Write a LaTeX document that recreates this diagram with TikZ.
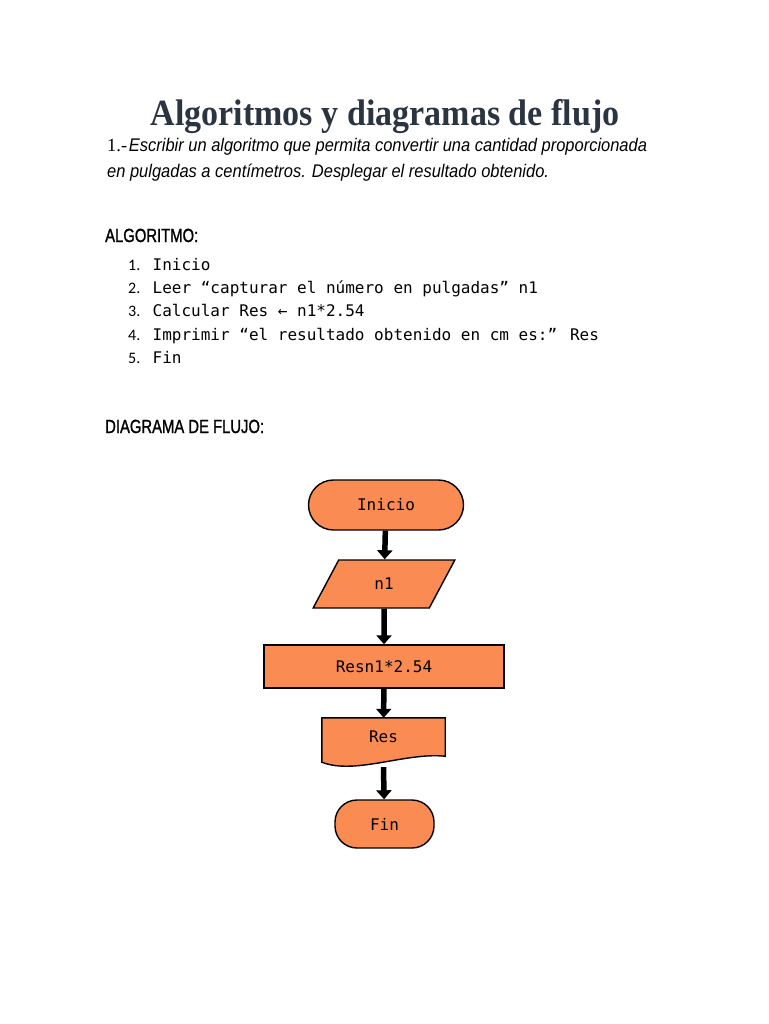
\documentclass[tikz,border=0pt]{standalone}
\usepackage{fontspec}
\setmainfont{Liberation Serif}
\newfontfamily\titlefont[FakeStretch=0.92]{Liberation Serif}
\newfontfamily\enunfont[FakeStretch=0.9]{Liberation Sans}
\newfontfamily\headfont[FakeStretch=0.78,FakeBold=1.2]{Liberation Sans}
\newfontfamily\numfont{Carlito}
\newfontfamily\codefont{DejaVu Sans Mono}
\usetikzlibrary{arrows.meta,shapes.geometric,calc}

\definecolor{titlecolor}{HTML}{2B3441}
\definecolor{boxorange}{HTML}{F98B53}

\pgfdeclarelayer{bg}
\pgfsetlayers{bg,main}

\begin{document}
\begin{tikzpicture}[x=1pt,y=-1pt,
    every node/.style={inner sep=0pt},
    flowbox/.style={draw, line width=1.4pt, fill=boxorange, font=\codefont\fontsize{16}{18}\selectfont},
    flowarrow/.style={line width=5.5pt, -{Triangle[width=15pt,length=9pt]}},
    listnum/.style={anchor=base west, font=\numfont\fontsize{16}{19}\selectfont},
    listitem/.style={anchor=base west, font=\codefont\fontsize{16}{19}\selectfont},
    heading/.style={anchor=base west, font=\headfont\fontsize{19}{22}\selectfont}]
        \useasboundingbox (0,0) rectangle (768,1024);

        % encabezado
        \node[anchor=base, text=titlecolor, font=\titlefont\bfseries\fontsize{37}{40}\selectfont] (titulo) at (385,126) {Algoritmos y diagramas de flujo};
        \node[anchor=base west] (enun1) at (107,152) {{\fontsize{18.5}{20}\selectfont 1.-}\,{\enunfont\itshape\fontsize{18.3}{21}\selectfont Escribir un algoritmo que permita convertir una cantidad proporcionada}};
        \node[anchor=base west, font=\enunfont\itshape\fontsize{18.3}{21}\selectfont] (enun2) at (107,178) {en pulgadas a centímetros. Desplegar el resultado obtenido.};

        % algoritmo
        \node[heading] (algo) at (105,242) {ALGORITMO:};
        \node[listnum] (num1) at (128,270) {1.};
        \node[listnum] (num2) at (128,293.3) {2.};
        \node[listnum] (num3) at (128,316.6) {3.};
        \node[listnum] (num4) at (128,340) {4.};
        \node[listnum] (num5) at (128,363.3) {5.};
        \node[listitem] (paso1) at (152.5,270) {Inicio};
        \node[listitem] (paso2) at (152.5,293.3) {Leer “capturar el número en pulgadas” n1};
        \node[listitem] (paso3) at (152.5,316.6) {Calcular Res ← n1*2.54};
        \node[listitem] (paso4) at (152.5,340) {Imprimir “el resultado obtenido en cm es:” Res};
        \node[listitem] (paso5) at (152.5,363.3) {Fin};

        \node[heading] (diag) at (105,433) {DIAGRAMA DE FLUJO:};

        % diagrama de flujo
        \node[flowbox, rounded corners=25pt, minimum width=155pt, minimum height=50pt] (inicio) at (386,505) {Inicio};
        \node[flowbox, trapezium, trapezium left angle=65, trapezium right angle=115, trapezium stretches=true, minimum width=142pt, minimum height=48pt] (n1) at (384,584) {n1};
        \node[flowbox, rectangle, minimum width=240pt, minimum height=43pt] (calc) at (384,666.5) {Resn1*2.54};
        \node[font=\codefont\fontsize{16}{18}\selectfont, minimum width=123pt, minimum height=38pt] (res) at (383.5,737) {Res};
        \node[flowbox, rounded corners=22pt, minimum width=99pt, minimum height=48pt] (fin) at (384.5,824) {Fin};

        \begin{pgfonlayer}{bg}
        \draw[line width=1.4pt, fill=boxorange] ($(res.south west)+(0,6)$) -- (res.north west) -- (res.north east) -- (res.south east)
            .. controls +(-40,-4) and +(33,13) .. ($(res.south west)+(0,6)$) -- cycle;
        \end{pgfonlayer}

        \draw[flowarrow] (inicio) -- (n1);
        \draw[flowarrow] (n1) -- (calc);
        \draw[flowarrow] (calc) -- (res);
        \draw[flowarrow] ([yshift=-11pt]res.south) -- (fin);

    \end{tikzpicture}
\end{document}
